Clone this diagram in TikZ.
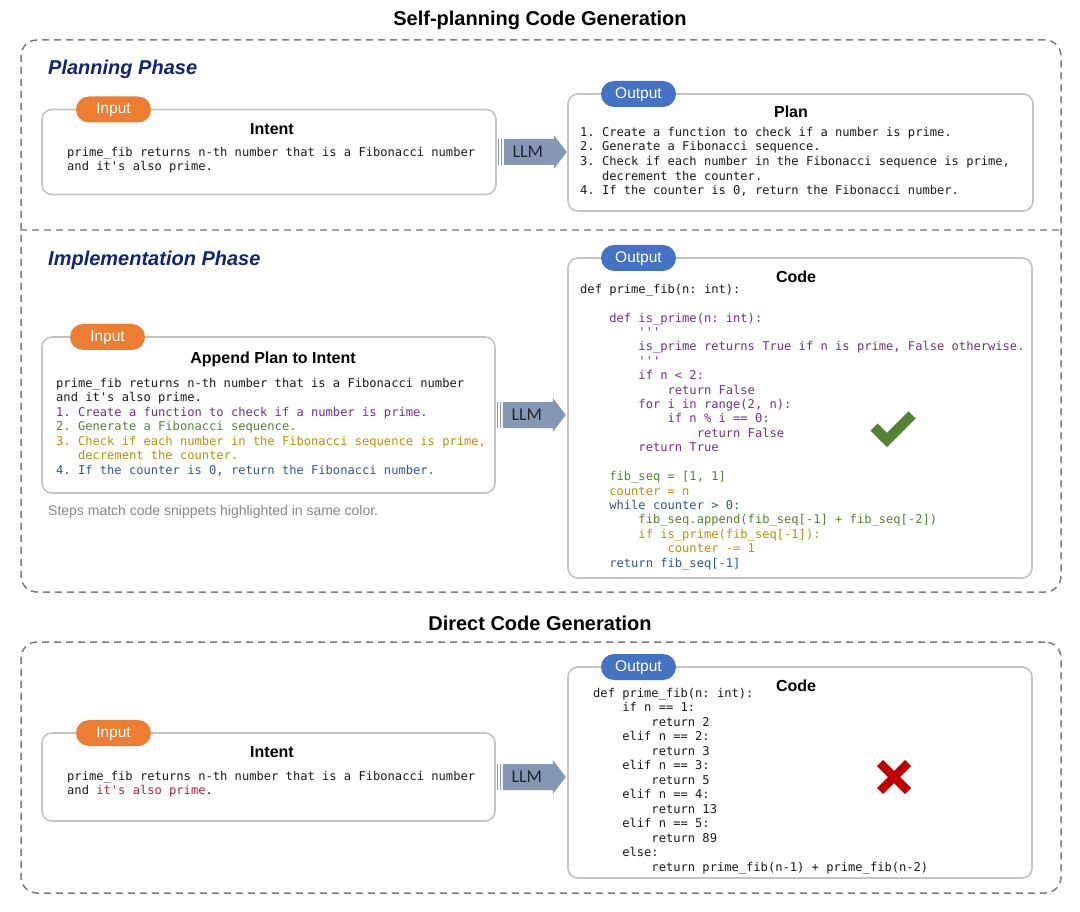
\documentclass[tikz,border=0pt]{standalone}
\usepackage{fontspec}
\setmainfont{Liberation Sans}
\setsansfont{Liberation Sans}
\setmonofont{DejaVu Sans Mono}
\newfontfamily\llmfont{Carlito}
\usetikzlibrary{calc}
\definecolor{boxgray}{RGB}{196,196,196}
\definecolor{dashgray}{RGB}{125,125,125}
\definecolor{inorange}{RGB}{237,125,49}
\definecolor{outblue}{RGB}{68,114,196}
\definecolor{llmblue}{RGB}{132,151,180}
\definecolor{navy}{RGB}{18,35,122}
\definecolor{cpurple}{RGB}{112,48,140}
\definecolor{cgreen}{RGB}{84,130,53}
\definecolor{cgold}{RGB}{191,144,0}
\definecolor{cblue}{RGB}{47,85,151}
\definecolor{cred}{RGB}{190,30,60}
\definecolor{codeblack}{RGB}{25,25,25}
\definecolor{notegray}{RGB}{135,135,135}
\definecolor{checkgreen}{RGB}{84,130,53}
\definecolor{crossred}{RGB}{192,0,0}
\newcommand\ind[1]{\hspace*{#1\dimexpr0.602em\relax}}
\newcommand\cstrut{\rule{0pt}{10pt}}
\newcommand\cc[1]{\leavevmode\color{#1}}
\tikzset{
  panel/.style={draw=boxgray, line width=1.6pt, rounded corners=10pt, fill=white, inner sep=0pt},
  outerbox/.style={draw=dashgray, line width=1.5pt, dash pattern=on 7pt off 5pt, rounded corners=16pt, inner sep=0pt},
  dashline/.style={draw=dashgray!70, line width=1.2pt, dash pattern=on 7pt off 5pt},
  pill/.style={rounded corners=13pt, minimum width=75pt, minimum height=26pt, inner sep=0pt,
    text=white, font=\fontsize{15.5}{18}\selectfont, text height=11pt, text depth=2pt},
  inpill/.style={pill, fill=inorange},
  outpill/.style={pill, fill=outblue},
  maintitle/.style={font=\bfseries\fontsize{20}{24}\selectfont, anchor=base, inner sep=0pt},
  phase/.style={font=\bfseries\itshape\fontsize{20}{24}\selectfont, text=navy, anchor=base west, inner sep=0pt},
  heading/.style={font=\bfseries\fontsize{16}{19}\selectfont, anchor=base, inner sep=0pt},
  codeblk/.style={anchor=north west, inner sep=0pt, align=left, text=codeblack,
    font=\ttfamily\fontsize{12.1}{#1}\selectfont},
  llmtxt/.style={font=\llmfont\fontsize{18}{21}\selectfont, text=black!85, inner sep=0pt},
  note/.style={font=\fontsize{14}{17}\selectfont, text=notegray, anchor=base west, inner sep=0pt},
}
\newcommand\llmarrow[2]{%
  \coordinate (#1s) at ($(#2.east)+(1,0)$);
  \fill[llmblue] ($(#1s)+(0,-13)$) rectangle ($(#1s)+(1.6,13)$);
  \fill[llmblue] ($(#1s)+(3,-13)$) rectangle ($(#1s)+(4.6,13)$);
  \fill[llmblue] ($(#1s)+(6,-13)$) -- ($(#1s)+(56,-13)$) -- ($(#1s)+(56,-17)$) -- ($(#1s)+(69,0)$)
     -- ($(#1s)+(56,17)$) -- ($(#1s)+(56,13)$) -- ($(#1s)+(6,13)$) -- cycle;
  \node[llmtxt] (#1) at ($(#1s)+(30,0)$) {LLM};}
\begin{document}
\begin{tikzpicture}[x=1pt,y=-1pt]
\useasboundingbox (0,0) rectangle (1080,912);
\fill[white] (0,0) rectangle (1080,912);

% ---------------- Self-planning ----------------
\node[maintitle] (t1) at (540,26) {Self-planning Code Generation};
\node[outerbox, minimum width=1040pt, minimum height=552pt] (sp) at (541,316) {};
\coordinate (div) at (0,230);
\draw[dashline] (sp.west |- div) -- (sp.east |- div);

\node[phase] (pp) at (48,75) {Planning Phase};
\node[phase] (ip) at (48,266) {Implementation Phase};

% planning input
\node[panel, minimum width=454pt, minimum height=85pt] (in1) at (269,152) {};
\node[inpill] (in1p) at (113.5,109.5) {Input};
\node[heading] (in1h) at (272,135) {Intent};
\node[codeblk=14.4] (in1t) at (67,146) {\cstrut prime\_fib returns n-th number that is a Fibonacci number\\
and it's also prime.};

% planning output
\node[panel, minimum width=465pt, minimum height=117pt] (out1) at (800.5,152.5) {};
\node[outpill] (out1p) at (638.5,94) {Output};
\node[heading] (out1h) at (791,118) {Plan};
\node[codeblk=14.7] (out1t) at (580,126) {\cstrut 1. Create a function to check if a number is prime.\\
2. Generate a Fibonacci sequence.\\
3. Check if each number in the Fibonacci sequence is prime,\\
\ind{3}decrement the counter.\\
4. If the counter is 0, return the Fibonacci number.};

\llmarrow{llm1}{in1}

% implementation input
\node[panel, minimum width=453pt, minimum height=156pt] (in2) at (268.5,415) {};
\node[inpill] (in2p) at (107.5,337) {Input};
\node[heading] (in2h) at (273,363) {Append Plan to Intent};
\node[codeblk=14.5] (in2t) at (56,377) {\cstrut prime\_fib returns n-th number that is a Fibonacci number\\
and it's also prime.\\
\cc{cpurple}1. Create a function to check if a number is prime.\\
\cc{cgreen}2. Generate a Fibonacci sequence.\\
\cc{cgold}3. Check if each number in the Fibonacci sequence is prime,\\
\cc{cgold}\ind{3}decrement the counter.\\
\cc{cblue}4. If the counter is 0, return the Fibonacci number.};
\node[note] (nt) at (48,515) {Steps match code snippets highlighted in same color.};

% implementation output
\node[panel, minimum width=464pt, minimum height=320pt] (out2) at (800,418) {};
\node[outpill] (out2p) at (638.5,258) {Output};
\node[heading] (out2h) at (796,283) {Code};
\node[codeblk=14.42] (out2t) at (580,283) {\cstrut def prime\_fib(n: int):\\
\mbox{}\\
\cc{cpurple}\ind{4}def is\_prime(n: int):\\
\cc{cpurple}\ind{8}'''\\
\cc{cpurple}\ind{8}is\_prime returns True if n is prime, False otherwise.\\
\cc{cpurple}\ind{8}'''\\
\cc{cpurple}\ind{8}if n < 2:\\
\cc{cpurple}\ind{12}return False\\
\cc{cpurple}\ind{8}for i in range(2, n):\\
\cc{cpurple}\ind{12}if n \% i == 0:\\
\cc{cpurple}\ind{16}return False\\
\cc{cpurple}\ind{8}return True\\
\mbox{}\\
\cc{cgreen}\ind{4}fib\_seq = [1, 1]\\
\cc{cgold}\ind{4}counter = n\\
\cc{cblue}\ind{4}while counter > 0:\\
\cc{cgreen}\ind{8}fib\_seq.append(fib\_seq[-1] + fib\_seq[-2])\\
\cc{cgold}\ind{8}if is\_prime(fib\_seq[-1]):\\
\cc{cgold}\ind{12}counter -= 1\\
\cc{cblue}\ind{4}return fib\_seq[-1]};

\llmarrow{llm2}{in2}

% check mark
\draw[checkgreen, line width=10pt, miter limit=10] (874,427) -- (887,440) -- (912,415);

% ---------------- Direct ----------------
\node[maintitle] (t2) at (540,630) {Direct Code Generation};
\node[outerbox, minimum width=1040pt, minimum height=251pt] (dc) at (541,767.5) {};

\node[panel, minimum width=453pt, minimum height=88pt] (in3) at (268.5,777) {};
\node[inpill] (in3p) at (113.5,733) {Input};
\node[heading] (in3h) at (272,757) {Intent};
\node[codeblk=14.4] (in3t) at (67,770) {\cstrut prime\_fib returns n-th number that is a Fibonacci number\\
and \textcolor{cred}{it's also prime}.};

\node[panel, minimum width=464pt, minimum height=211pt] (out3) at (800,772.5) {};
\node[outpill] (out3p) at (638.5,667) {Output};
\node[heading] (out3h) at (796,691) {Code};
\node[codeblk=14.5] (out3t) at (593,687) {\cstrut def prime\_fib(n: int):\\
\ind{4}if n == 1:\\
\ind{8}return 2\\
\ind{4}elif n == 2:\\
\ind{8}return 3\\
\ind{4}elif n == 3:\\
\ind{8}return 5\\
\ind{4}elif n == 4:\\
\ind{8}return 13\\
\ind{4}elif n == 5:\\
\ind{8}return 89\\
\ind{4}else:\\
\ind{8}return prime\_fib(n-1) + prime\_fib(n-2)};

\llmarrow{llm3}{in3}

% cross
\draw[crossred, line width=8.5pt] (880,763) -- (908,791) (908,763) -- (880,791);
\end{tikzpicture}
\end{document}
